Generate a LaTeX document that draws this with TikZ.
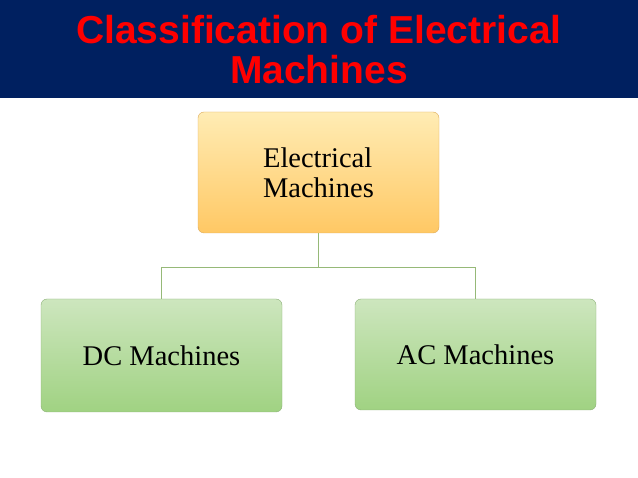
\documentclass[tikz,border=0pt]{standalone}
\usepackage{fontspec}
\setmainfont{Liberation Serif}
\newfontfamily\titlefont{Liberation Sans}
\definecolor{navy}{RGB}{0,32,96}
\definecolor{titlered}{RGB}{255,0,0}
\definecolor{orTop}{RGB}{255,236,180}
\definecolor{orBot}{RGB}{255,200,100}
\definecolor{orEdge}{RGB}{220,170,90}
\definecolor{grTop}{RGB}{205,230,190}
\definecolor{grBot}{RGB}{160,210,130}
\definecolor{grEdge}{RGB}{140,175,120}
\definecolor{linkc}{RGB}{150,185,120}
\tikzset{
  box/.style={draw, rounded corners=6pt, minimum width=241pt, inner sep=0pt, align=center, font=\fontsize{28.5}{30}\selectfont},
  orangebox/.style={box, draw=orEdge, top color=orTop, bottom color=orBot},
  greenbox/.style={box, draw=grEdge, top color=grTop, bottom color=grBot},
  linkline/.style={draw=linkc, line width=0.8pt}
}
\begin{document}
\begin{tikzpicture}[x=1pt,y=-1pt]
\useasboundingbox (0,0) rectangle (638,478);
\fill[navy] (0,0) rectangle (638,98);
\node[text=titlered, font=\titlefont\bfseries\fontsize{39}{40}\selectfont, align=center] (title) at (319,50) {Classification of Electrical\\Machines};
\node[orangebox, align=left, minimum height=121pt] (em) at (318.5,172.5) {Electrical\\Machines};
\node[greenbox, minimum height=113pt] (dc) at (161.5,355.5) {DC Machines};
\node[greenbox, minimum height=111pt] (ac) at (475.5,354.5) {AC Machines};
\coordinate (j) at (318.5,267);
\draw[linkline] (em.south) -- (j) -| (dc.north);
\draw[linkline] (j) -| (ac.north);
\end{tikzpicture}
\end{document}
